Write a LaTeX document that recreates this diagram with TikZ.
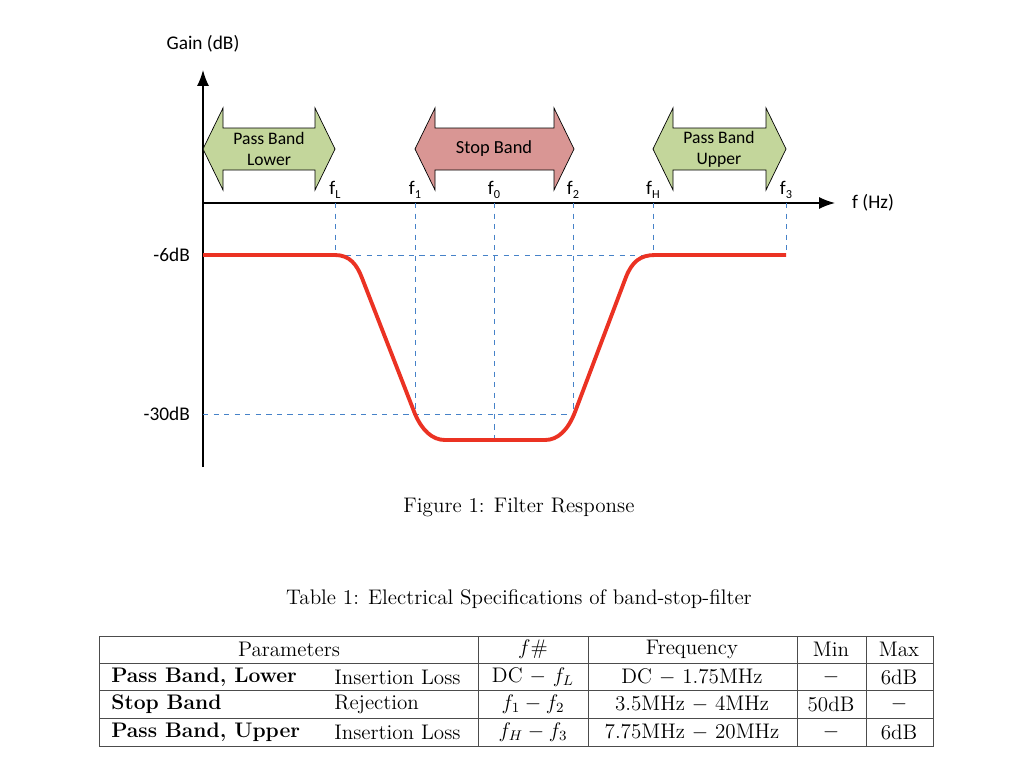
\documentclass[tikz,border=0pt]{standalone}
\usepackage{fontspec}
\newfontfamily\calibri{Carlito}
\usetikzlibrary{arrows.meta}
\definecolor{passgreen}{RGB}{195,214,155}
\definecolor{stopred}{RGB}{217,150,148}
\definecolor{dashblue}{RGB}{70,130,200}
\definecolor{curvered}{RGB}{235,50,35}
\newcommand{\sub}[2]{#1\raisebox{-0.45ex}{\scriptsize #2}}
\newcommand{\bandarrow}[3]{%
  \filldraw[fill=#3,draw=black,thin] (#1,149) -- (#1+20,108) -- (#1+20,128) -- (#2-20,128)
    -- (#2-20,108) -- (#2,149) -- (#2-20,190) -- (#2-20,170) -- (#1+20,170) -- (#1+20,190) -- cycle;}
\begin{document}
\begin{tikzpicture}[x=0.02cm,y=-0.02cm,
  lbl/.style={font=\calibri\fontsize{11}{13}\selectfont},
  tick/.style={lbl,anchor=south,inner sep=1pt},
  guide/.style={dashblue,dashed,thin},
  cell/.style={font=\fontsize{12}{14}\selectfont,inner sep=0pt}]
\useasboundingbox (0,0) rectangle (1024,781);
% axes
\coordinate (o) at (203,203);
\coordinate (ybot) at (203,467);
\coordinate (ytop) at (203,70);
\coordinate (xend) at (835,203);
\draw[thick,-{Latex[length=9pt]}] (ybot) -- (ytop);
\draw[thick,-{Latex[length=9pt]}] (o) -- (xend);
\node[lbl] (gain) at (203,44) {Gain (dB)};
\node[lbl,anchor=west] (fhz) at (846,203) {f (Hz)};
\node[lbl,anchor=east] (m6) at (196,255) {-6dB};
\node[lbl,anchor=east] (m30) at (196,414) {-30dB};
% band arrows
\bandarrow{203}{335}{passgreen}
\bandarrow{415}{574}{stopred}
\bandarrow{653}{786}{passgreen}
\node[lbl,align=center,font=\calibri\fontsize{10}{12}\selectfont] (pbl) at (269,149) {Pass Band\\Lower};
\node[lbl,font=\calibri\fontsize{10.5}{12}\selectfont] (sb) at (494,149) {Stop Band};
\node[lbl,align=center,font=\calibri\fontsize{10}{12}\selectfont] (pbu) at (719,149) {Pass Band\\Upper};
% frequency marks
\foreach \name/\x/\y/\t in {fL/335/255/{\sub{f}{L}}, fa/415/414/{\sub{f}{1}}, fo/494/440/{\sub{f}{0}},
    fb/573/414/{\sub{f}{2}}, fH/653/255/{\sub{f}{H}}, fc/786/255/{\sub{f}{3}}} {
  \node[tick] (\name) at (\x,201) {\t};
  \draw[guide] (\x,203) -- (\x,\y);
}
\draw[guide] (335,255) -- (653,255);
\draw[guide] (203,414) -- (573,414);
% response
\draw[curvered,line width=2.2pt,line join=round] (203,255) -- (335,255)
  .. controls (350,255) and (357,265) .. (362,278) -- (415,414)
  .. controls (422,430) and (432,440) .. (445,440) -- (545,440)
  .. controls (558,440) and (568,430) .. (575,412) -- (626,277)
  .. controls (632,262) and (640,255) .. (655,255) -- (786,255);
\node[cell] (cap1) at (519,507) {Figure 1: Filter Response};
\node[cell] (cap2) at (519,599) {Table 1: Electrical Specifications of band-stop-filter};
% table
\draw[thin,gray!60!black] (99,636) rectangle (933,746);
\foreach \y in {663,690,718} \draw[thin,gray!60!black] (99,\y) -- (933,\y);
\foreach \x in {478,588,797,866} \draw[thin,gray!60!black] (\x,636) -- (\x,746);
\node[cell] (hpar) at (289,649) {Parameters};
\node[cell] (hf) at (533,649) {$f\#$};
\node[cell] (hfr) at (692,649) {Frequency};
\node[cell] (hmin) at (831,649) {Min};
\node[cell] (hmax) at (899,649) {Max};
\foreach \r/\y/\a/\b/\c/\d/\mn/\mx in {
  1/677/{Pass Band, Lower}/Insertion Loss/{DC $-$ $f_L$}/{DC $-$ 1.75MHz}/$-$/6dB,
  2/704/Stop Band/Rejection/{$f_1 - f_2$}/{3.5MHz $-$ 4MHz}/50dB/$-$,
  3/732/{Pass Band, Upper}/Insertion Loss/{$f_H - f_3$}/{7.75MHz $-$ 20MHz}/$-$/6dB} {
  \node[cell,anchor=west,font=\bfseries\fontsize{12}{14}\selectfont] (p\r) at (111,\y) {\a};
  \node[cell,anchor=west] (t\r) at (334,\y) {\b};
  \node[cell] (f\r) at (533,\y) {\c};
  \node[cell] (q\r) at (692,\y) {\d};
  \node[cell] (n\r) at (831,\y) {\mn};
  \node[cell] (x\r) at (899,\y) {\mx};
}
\end{tikzpicture}
\end{document}
